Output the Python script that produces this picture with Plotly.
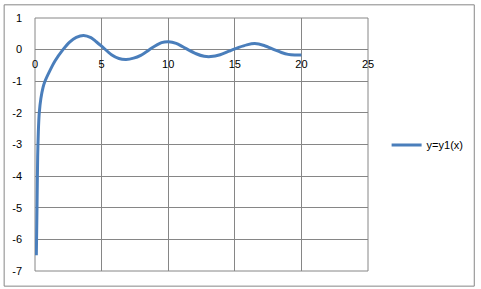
import plotly.graph_objects as go

x_vals = [0.1, 0.15, 0.2, 0.25, 0.32, 0.44, 0.6, 0.75, 1.1, 1.5, 2.1, 2.6,
          3.1, 3.65, 4.2, 4.6, 5.0, 5.74, 6.3, 6.84, 7.4, 7.94, 8.92, 9.5,
          10.02, 10.6, 11.1, 12.1, 12.7, 13.2, 13.9, 14.56, 15.3, 15.9, 16.5,
          17.2, 18.0, 18.5, 19.0, 19.5, 20.0]
y_vals = [-6.5, -5.0, -3.4, -2.6, -2.0, -1.55, -1.2, -1.0, -0.68, -0.36, 0.0, 0.24,
          0.39, 0.45, 0.38, 0.25, 0.11, -0.16, -0.28, -0.31, -0.27, -0.18, 0.09, 0.22,
          0.25, 0.2, 0.09, -0.13, -0.21, -0.22, -0.16, -0.05, 0.07, 0.15, 0.19,
          0.13, -0.01, -0.09, -0.15, -0.17, -0.17]
series_name = "y=y1(x)"
x_ticks = [0, 5, 10, 15, 20, 25]
y_ticks = [-7, -6, -5, -4, -3, -2, -1, 0, 1]

W, H = 481, 289
L, R, T, B = 32, 109, 14, 16
pw, ph = W - L - R, H - T - B
grid = "#868686"
font = dict(family="Liberation Sans", size=11, color="#000000")

fig = go.Figure()
fig.add_trace(go.Scatter(x=x_vals, y=y_vals, mode="lines", name=series_name,
                         line=dict(color="#4a7ebb", width=3, shape="spline", smoothing=0.8)))

fig.update_layout(
    width=W, height=H, autosize=False,
    margin=dict(l=L, r=R, t=T, b=B, pad=0),
    paper_bgcolor="white", plot_bgcolor="white",
    font=font,
    showlegend=True,
    legend=dict(x=(391 - L) / pw, xanchor="left", y=(H - B - 144) / ph, yanchor="middle",
                bgcolor="rgba(0,0,0,0)", font=font, itemwidth=30),
    xaxis=dict(range=[0, 25], tickvals=x_ticks, ticktext=[str(v) for v in x_ticks],
               showgrid=True, gridcolor=grid, gridwidth=1, zeroline=False,
               showline=False, anchor="free", position=7 / 8,
               ticks="", ticklabelstandoff=6, tickfont=font),
    yaxis=dict(range=[-7, 1], tickvals=y_ticks, ticktext=[str(v) for v in y_ticks],
               showgrid=True, gridcolor=grid, gridwidth=1, zeroline=False,
               showline=False, ticks="", ticklabelstandoff=12, tickfont=font),
    shapes=[
        dict(type="rect", xref="paper", yref="paper", x0=0, x1=1, y0=0, y1=1,
             line=dict(color=grid, width=1), fillcolor="rgba(0,0,0,0)", layer="below"),
        dict(type="rect", xref="paper", yref="paper",
             x0=(0.5 - L) / pw, x1=(W - 0.5 - L) / pw,
             y0=(H - B - (H - 0.5)) / ph, y1=(H - B - 0.5) / ph,
             line=dict(color=grid, width=1), fillcolor="rgba(0,0,0,0)"),
    ],
)

fig.write_html("out.html")
